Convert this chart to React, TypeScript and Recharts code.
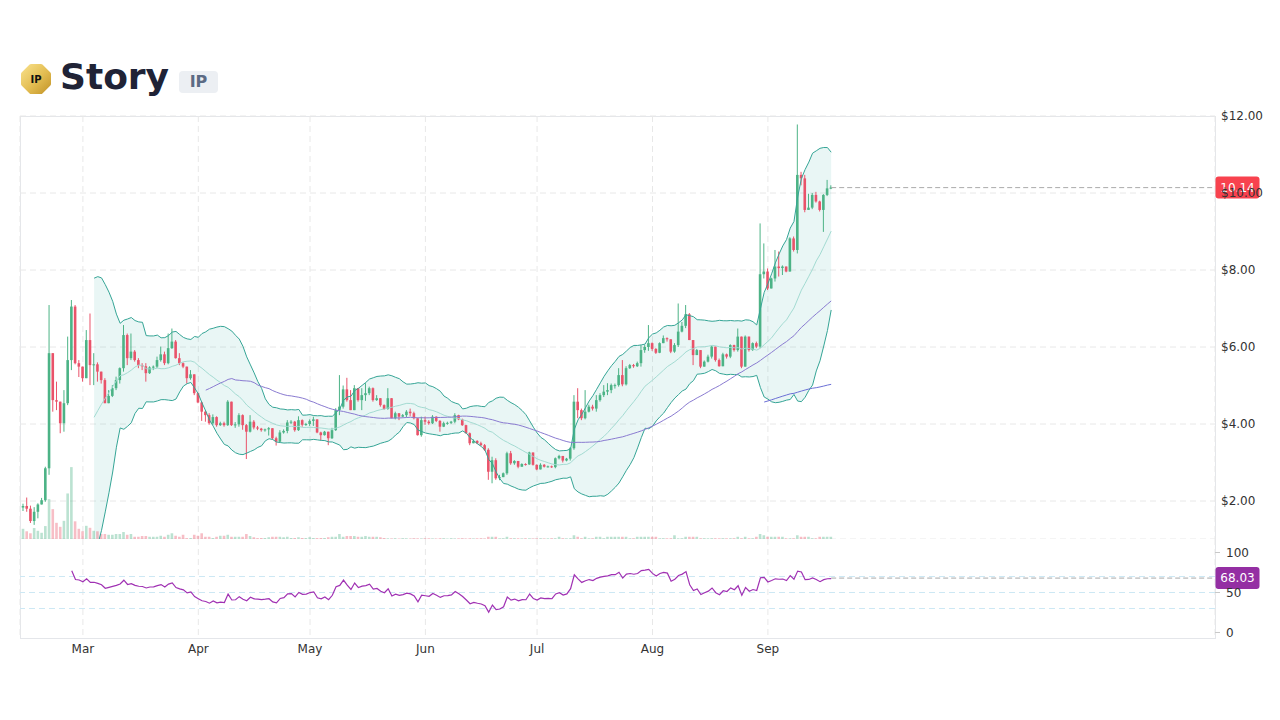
import React from 'react';
import {
  ComposedChart, Bar, Line, Area, XAxis, YAxis, CartesianGrid, ReferenceLine
} from 'recharts';

// Story (IP) daily candles, day 0 = Feb 13 2025, last = Sep 18 2025
const firstOpen = 1.83;

const closes = [
  1.87, 1.80, 1.48, 1.72, 1.91, 2.02, 2.85, 5.84, 4.62, 4.58,
  4.02, 4.54, 5.66, 7.05, 5.58, 5.49, 5.19, 6.18, 5.53, 5.55,
  5.36, 5.14, 4.54, 4.73, 4.93, 5.14, 5.45, 6.31, 5.71, 5.88,
  5.66, 5.53, 5.50, 5.32, 5.47, 5.49, 5.66, 5.81, 5.58, 5.97,
  6.14, 5.71, 5.58, 5.49, 5.19, 5.29, 4.80, 4.56, 4.32, 4.23,
  4.02, 4.18, 3.97, 4.02, 3.97, 4.58, 3.97, 3.99, 4.23, 3.97,
  3.80, 4.06, 3.91, 3.88, 3.84, 3.86, 3.89, 3.63, 3.54, 3.78,
  3.82, 4.04, 4.06, 3.84, 4.10, 3.98, 4.00, 4.08, 4.12, 3.78,
  3.71, 3.80, 3.63, 3.84, 4.36, 4.45, 4.90, 4.62, 4.36, 4.93,
  4.62, 4.75, 4.80, 4.93, 4.62, 4.67, 4.49, 4.39, 4.67, 4.15,
  4.28, 4.19, 4.23, 4.32, 4.28, 4.15, 3.71, 4.10, 4.06, 4.02,
  4.19, 4.08, 3.93, 4.02, 4.03, 4.06, 4.23, 4.12, 3.97, 3.76,
  3.50, 3.56, 3.50, 3.45, 3.33, 2.76, 3.06, 2.59, 2.62, 2.72,
  3.24, 2.98, 3.04, 2.89, 2.96, 2.95, 3.26, 2.94, 2.82, 2.94,
  2.89, 2.90, 2.88, 3.11, 3.17, 3.05, 3.10, 3.37, 4.58, 4.36,
  4.15, 4.32, 4.45, 4.40, 4.62, 4.75, 4.84, 4.88, 5.01, 5.01,
  5.27, 5.03, 5.45, 5.53, 5.50, 5.58, 5.92, 6.00, 6.10, 5.95,
  5.85, 6.10, 6.23, 6.20, 5.88, 6.05, 6.40, 6.55, 6.85, 6.18,
  5.79, 5.92, 5.49, 5.62, 5.75, 6.01, 5.66, 5.50, 5.81, 5.75,
  6.05, 5.92, 6.27, 5.49, 6.27, 5.92, 6.10, 6.01, 7.89, 7.96,
  7.52, 7.78, 8.09, 8.05, 8.09, 7.96, 8.82, 8.52, 10.47, 10.38,
  9.56, 9.62, 9.95, 9.78, 9.56, 9.95, 10.12, 10.14,
];

const highs = [
  1.93, 2.09, 1.88, 1.84, 1.94, 2.08, 2.89, 7.09, 5.84, 5.10,
  4.58, 4.88, 6.27, 7.22, 7.09, 5.66, 5.49, 6.44, 6.87, 5.84,
  5.60, 5.36, 5.19, 4.88, 5.01, 5.23, 5.47, 6.57, 6.35, 6.35,
  5.92, 5.71, 5.58, 5.58, 5.50, 5.52, 5.75, 6.01, 5.88, 6.35,
  6.48, 6.18, 5.84, 5.60, 5.49, 5.40, 5.29, 4.82, 4.58, 4.36,
  4.28, 4.25, 4.20, 4.06, 4.06, 4.62, 4.58, 4.05, 4.28, 4.25,
  4.00, 4.23, 4.10, 3.95, 3.90, 3.88, 3.92, 3.89, 3.67, 3.84,
  3.86, 4.10, 4.10, 4.08, 4.20, 4.12, 4.03, 4.12, 4.19, 4.12,
  3.80, 3.82, 3.78, 3.90, 4.41, 5.27, 5.00, 5.20, 4.88, 5.01,
  4.90, 4.93, 5.06, 4.97, 4.95, 4.75, 4.67, 4.51, 4.93, 4.67,
  4.32, 4.28, 4.26, 4.36, 4.40, 4.32, 4.15, 4.19, 4.19, 4.10,
  4.23, 4.20, 4.10, 4.06, 4.06, 4.08, 4.28, 4.24, 4.14, 3.98,
  3.78, 3.60, 3.58, 3.54, 3.48, 3.37, 3.15, 3.11, 2.68, 2.74,
  3.28, 3.30, 3.06, 3.04, 2.98, 2.98, 3.28, 3.26, 2.95, 2.98,
  2.96, 2.92, 2.92, 3.13, 3.20, 3.17, 3.12, 3.40, 4.75, 4.93,
  4.40, 4.88, 4.50, 4.50, 4.75, 4.80, 5.01, 5.06, 5.05, 5.05,
  5.45, 5.66, 5.50, 5.56, 5.56, 5.62, 6.05, 6.05, 6.57, 6.12,
  5.97, 6.12, 6.30, 6.25, 6.20, 6.10, 7.13, 6.65, 7.09, 6.88,
  6.14, 5.95, 5.92, 5.65, 5.80, 6.05, 6.00, 5.70, 5.85, 5.83,
  6.07, 6.06, 6.48, 6.27, 6.30, 6.27, 6.12, 6.14, 9.21, 8.69,
  8.04, 7.80, 8.52, 8.48, 8.12, 8.09, 8.85, 8.87, 11.78, 10.55,
  10.47, 9.98, 10.00, 10.03, 9.80, 9.97, 10.34, 10.20,
];

const lows = [
  1.74, 1.72, 1.43, 1.38, 1.55, 1.92, 1.98, 2.68, 4.32, 4.36,
  3.76, 3.80, 4.49, 5.40, 5.55, 5.22, 5.10, 5.19, 5.01, 5.01,
  5.10, 5.05, 4.54, 4.54, 4.70, 4.88, 5.05, 5.36, 5.53, 5.66,
  5.62, 5.45, 5.40, 5.10, 5.30, 5.40, 5.45, 5.62, 5.53, 5.55,
  5.95, 5.70, 5.53, 5.45, 5.05, 5.15, 4.75, 4.54, 4.08, 4.06,
  3.98, 3.98, 3.93, 3.95, 3.93, 3.95, 3.95, 3.90, 3.93, 3.85,
  3.09, 3.78, 3.86, 3.84, 3.80, 3.80, 3.70, 3.60, 3.44, 3.52,
  3.75, 3.76, 4.00, 3.80, 3.82, 3.93, 3.95, 3.95, 3.95, 3.76,
  3.58, 3.70, 3.45, 3.61, 3.82, 4.23, 4.40, 4.58, 4.36, 4.67,
  4.58, 4.36, 4.60, 4.75, 4.58, 4.60, 4.45, 4.37, 4.37, 4.15,
  4.12, 4.10, 4.18, 4.18, 4.20, 4.12, 3.70, 3.67, 3.98, 3.98,
  4.00, 4.05, 3.80, 3.92, 3.98, 4.00, 4.02, 4.10, 3.95, 3.75,
  3.45, 3.50, 3.48, 3.43, 3.30, 2.55, 2.46, 2.55, 2.54, 2.62,
  2.68, 2.94, 2.94, 2.85, 2.90, 2.92, 2.94, 2.92, 2.80, 2.82,
  2.87, 2.87, 2.86, 2.85, 3.08, 3.00, 3.03, 3.05, 3.33, 4.15,
  4.10, 4.12, 4.30, 4.35, 4.32, 4.58, 4.70, 4.75, 4.80, 4.92,
  4.97, 4.98, 5.00, 5.43, 5.46, 5.48, 5.49, 5.85, 5.90, 5.90,
  5.82, 5.84, 6.10, 6.14, 5.84, 5.85, 6.00, 6.38, 6.49, 6.18,
  5.53, 5.79, 5.45, 5.49, 5.60, 5.70, 5.62, 5.49, 5.50, 5.70,
  5.71, 5.88, 5.88, 5.45, 5.49, 5.88, 5.90, 5.97, 5.97, 7.78,
  7.48, 7.52, 7.70, 7.83, 7.87, 7.94, 7.96, 8.48, 8.43, 10.20,
  9.50, 9.56, 9.58, 9.75, 9.52, 8.99, 9.92, 10.10,
];

// volume in $M
const volumes = [
  41, 31, 23, 44, 33, 25, 52, 160, 120, 65,
  49, 73, 183, 289, 71, 41, 31, 53, 45, 33,
  31, 20, 20, 17, 17, 20, 20, 28, 17, 20,
  9, 9, 12, 12, 9, 9, 9, 13, 9, 17,
  23, 13, 9, 17, 4, 4, 17, 13, 23, 9,
  9, 4, 9, 13, 13, 17, 9, 9, 9, 9,
  20, 12, 7, 4, 4, 4, 7, 9, 9, 9,
  7, 9, 4, 4, 7, 4, 4, 7, 4, 4,
  4, 4, 7, 9, 9, 20, 9, 12, 12, 12,
  9, 9, 12, 9, 9, 9, 7, 4, 3, 2,
  3, 2, 3, 3, 2, 3, 3, 2, 3, 3,
  2, 2, 3, 3, 2, 3, 2, 3, 3, 2,
  3, 2, 3, 3, 2, 9, 9, 9, 3, 3,
  9, 3, 3, 3, 2, 3, 3, 2, 3, 3,
  2, 3, 3, 3, 9, 3, 3, 3, 15, 9,
  3, 9, 3, 3, 9, 9, 3, 9, 9, 9,
  9, 9, 9, 3, 3, 9, 9, 9, 9, 9,
  9, 3, 3, 3, 3, 15, 3, 3, 9, 9,
  9, 9, 3, 3, 3, 3, 3, 3, 3, 3,
  3, 3, 9, 3, 9, 3, 3, 9, 20, 15,
  9, 9, 9, 9, 9, 3, 3, 3, 15, 9,
  9, 9, 3, 3, 9, 9, 9, 9,
];

const monthTicks = [16, 47, 77, 108, 138, 169, 200];
const monthLabels = ['Mar', 'Apr', 'May', 'Jun', 'Jul', 'Aug', 'Sep'];
const priceTicks = [2, 4, 6, 8, 10, 12];
const rsiTicks = [0, 50, 100];
const rsiLevels = [30, 50, 70];
const lastPrice = 10.14;
const lastRsi = 68.03;

const X_DOMAIN: [number, number] = [-0.9, 320.1];
const UP = '#4cb386';
const DOWN = '#e9536a';
const TEAL = '#35a596';

const sma = (vals: number[], n: number) =>
  vals.map((_, i) => (i < n - 1 ? null : vals.slice(i - n + 1, i + 1).reduce((a, b) => a + b, 0) / n));

const stdev = (vals: number[], n: number) =>
  vals.map((_, i) => {
    if (i < n - 1) return null;
    const w = vals.slice(i - n + 1, i + 1);
    const m = w.reduce((a, b) => a + b, 0) / n;
    return Math.sqrt(w.reduce((a, b) => a + (b - m) ** 2, 0) / (n - 1));
  });

const rsiOf = (vals: number[], first: number, n: number) => {
  let g = 0;
  let l = 0;
  return vals.map((c, i) => {
    const d = c - (i === 0 ? first : vals[i - 1]);
    const up = Math.max(d, 0);
    const dn = Math.max(-d, 0);
    if (i < n) { g += up / n; l += dn / n; }
    else { g = (g * (n - 1) + up) / n; l = (l * (n - 1) + dn) / n; }
    if (i < n - 1) return null;
    return l === 0 ? 100 : 100 - 100 / (1 + g / l);
  });
};

const opens = closes.map((c, i) => (i === 0 ? firstOpen : closes[i - 1]));
const mid20 = sma(closes, 20);
const sd20 = stdev(closes, 20);
const ma50 = sma(closes, 50);
const ma200 = sma(closes, 200);
const rsi14 = rsiOf(closes, firstOpen, 14);

const rows = closes.map((c, i) => {
  const o = opens[i];
  const m = mid20[i];
  const s = sd20[i] ?? 0;
  return {
    day: i,
    open: o,
    close: c,
    high: Math.max(highs[i], o, c),
    low: Math.min(lows[i], o, c),
    vol: volumes[i],
    mid: m,
    upper: m == null ? null : m + 2 * s,
    lower: m == null ? null : m - 2 * s,
    band: m == null ? null : [m - 2 * s, m + 2 * s],
    ma50: ma50[i],
    ma200: ma200[i],
    rsi: rsi14[i],
  };
});

const CandleShape = (props: any) => {
  const { x, y, width, height, payload } = props;
  if (x == null || payload == null) return null;
  const top = height >= 0 ? y : y + height;
  const h = Math.abs(height);
  const cx = x + width / 2;
  const { open, close, high, low } = payload;
  const k = h / (high - low || 1);
  const yO = top + (high - open) * k;
  const yC = top + (high - close) * k;
  const color = close >= open ? UP : DOWN;
  return (
    <g>
      <line x1={cx} x2={cx} y1={top} y2={top + h} stroke={color} strokeWidth={1} />
      <rect x={cx - 1.3} y={Math.min(yO, yC)} width={2.6} height={Math.max(1, Math.abs(yO - yC))} fill={color} />
    </g>
  );
};

const VolumeShape = (props: any) => {
  const { x, y, width, height, payload } = props;
  if (x == null || payload == null) return null;
  const cx = x + width / 2;
  const fill = payload.close >= payload.open ? 'rgba(76,179,134,0.38)' : 'rgba(233,83,106,0.38)';
  return <rect x={cx - 1.3} y={y} width={2.6} height={Math.max(0, height)} fill={fill} />;
};

const Badge = (props: any) => {
  const { viewBox, text, fill } = props;
  if (!viewBox) return null;
  const y = viewBox.y;
  return (
    <g>
      <rect x={1215.5} y={y - 11} width={44} height={22} rx={3} fill={fill} fillOpacity={0.92} />
      <text x={1237.5} y={y} dy="0.36em" textAnchor="middle" fontSize={12} fill="#fff">{text}</text>
    </g>
  );
};

const tickStyle = { fontSize: 12, fill: '#333', fontFamily: 'DejaVu Sans' };

function IpIcon() {
  return (
    <svg width={32} height={32} viewBox="0 0 32 32" style={{ position: 'absolute', left: 20, top: 63 }}>
      <defs>
        <linearGradient id="gold" x1="0" y1="0" x2="1" y2="1">
          <stop offset="0" stopColor="#f7de86" />
          <stop offset="0.55" stopColor="#e3bd52" />
          <stop offset="1" stopColor="#c6982c" />
        </linearGradient>
      </defs>
      <polygon
        points="11,3 21,3 29,11 29,21 21,29 11,29 3,21 3,11"
        fill="url(#gold)" stroke="url(#gold)" strokeWidth={4} strokeLinejoin="round"
      />
      <text x={16} y={19.5} textAnchor="middle" fontSize={10} fontWeight="bold" fill="#111" fontFamily="DejaVu Sans">IP</text>
    </svg>
  );
}

export default function App() {
  return (
    <div style={{ position: 'absolute', left: 0, top: 0, width: 1280, height: 720, background: '#fff', fontFamily: 'DejaVu Sans' }}>
      <IpIcon />
      <div style={{ position: 'absolute', left: 60, top: 59, fontSize: 36, lineHeight: '36px', fontWeight: 'bold', color: '#202336' }}>
        Story
      </div>
      <div style={{
        position: 'absolute', left: 179, top: 71, width: 39, height: 22, lineHeight: '22px', textAlign: 'center',
        borderRadius: 4, background: '#eceff3', color: '#5c6b84', fontSize: 16, fontWeight: 'bold'
      }}>
        IP
      </div>

      <div style={{ position: 'absolute', left: 20, top: 116, width: 1196, height: 523, border: '1px solid #e4e6ea', boxSizing: 'border-box' }} />

      <div style={{ position: 'absolute', left: 0, top: 0 }}>
        <ComposedChart width={1280} height={539} data={rows} margin={{ top: 116, right: 0, bottom: 0, left: 20 }}>
          <XAxis xAxisId="p" dataKey="day" type="number" domain={X_DOMAIN} ticks={monthTicks} hide allowDataOverflow />
          <XAxis xAxisId="v" dataKey="day" type="number" domain={X_DOMAIN} hide allowDataOverflow />
          <YAxis
            yAxisId="price" orientation="right" width={65} domain={[1.013, 12]} ticks={priceTicks}
            allowDataOverflow axisLine={false} tickLine={false} tickSize={0} tickMargin={6}
            tick={tickStyle} tickFormatter={(v: number) => `$${v.toFixed(2)}`}
          />
          <YAxis yAxisId="vol" hide domain={[0, 1700]} />
          <CartesianGrid xAxisId="p" yAxisId="price" stroke="#e8e8e8" strokeDasharray="6 4" />
          <Bar xAxisId="v" yAxisId="vol" dataKey="vol" barSize={3} shape={VolumeShape} isAnimationActive={false} />
          <Area xAxisId="p" yAxisId="price" dataKey="band" stroke="none" fill="#26a69a" fillOpacity={0.1} isAnimationActive={false} />
          <Line xAxisId="p" yAxisId="price" dataKey="upper" stroke={TEAL} strokeWidth={1} dot={false} isAnimationActive={false} />
          <Line xAxisId="p" yAxisId="price" dataKey="lower" stroke={TEAL} strokeWidth={1} dot={false} isAnimationActive={false} />
          <Line xAxisId="p" yAxisId="price" dataKey="mid" stroke="#a3dbd2" strokeWidth={1} dot={false} isAnimationActive={false} />
          <Line xAxisId="p" yAxisId="price" dataKey="ma50" stroke="#8a7bd1" strokeWidth={1} dot={false} isAnimationActive={false} />
          <Line xAxisId="p" yAxisId="price" dataKey="ma200" stroke="#6b6fd6" strokeWidth={1} dot={false} isAnimationActive={false} />
          <Bar
            xAxisId="p" yAxisId="price" dataKey={(d: any) => [d.low, d.high]} barSize={3}
            shape={CandleShape} isAnimationActive={false}
          />
          <ReferenceLine
            xAxisId="p" yAxisId="price"
            segment={[{ x: 217, y: lastPrice }, { x: X_DOMAIN[1], y: lastPrice }]}
            stroke="#aaaaaa" strokeDasharray="5 3"
            label={<Badge text={lastPrice.toFixed(2)} fill="#f7323f" />}
          />
        </ComposedChart>
      </div>

      <div style={{ position: 'absolute', left: 0, top: 539 }}>
        <ComposedChart width={1280} height={128} data={rows} margin={{ top: 0, right: 0, bottom: 0, left: 20 }}>
          <XAxis
            dataKey="day" type="number" domain={X_DOMAIN} ticks={monthTicks} allowDataOverflow
            tickFormatter={(v: number) => monthLabels[monthTicks.indexOf(v)] ?? ''}
            axisLine={false} tickLine={false} tickSize={0} tickMargin={6} height={29} tick={tickStyle}
          />
          <YAxis
            orientation="right" width={65} domain={[-6.9, 116.9]} ticks={rsiTicks} allowDataOverflow
            axisLine={false} tickLine={{ stroke: '#c8c8c8' }} tickSize={5} tickMargin={6} tick={tickStyle}
          />
          <CartesianGrid horizontal={false} stroke="#e8e8e8" strokeDasharray="6 4" />
          {rsiLevels.map((v) => (
            <ReferenceLine key={v} y={v} stroke="#cde8f4" strokeDasharray="6 4" />
          ))}
          <Line dataKey="rsi" stroke="#a031b3" strokeWidth={1.2} dot={false} isAnimationActive={false} />
          <ReferenceLine
            segment={[{ x: 217, y: lastRsi }, { x: X_DOMAIN[1], y: lastRsi }]}
            stroke="#aaaaaa" strokeDasharray="5 3"
            label={<Badge text={lastRsi.toFixed(2)} fill="#8b1d9b" />}
          />
        </ComposedChart>
      </div>
    </div>
  );
}
